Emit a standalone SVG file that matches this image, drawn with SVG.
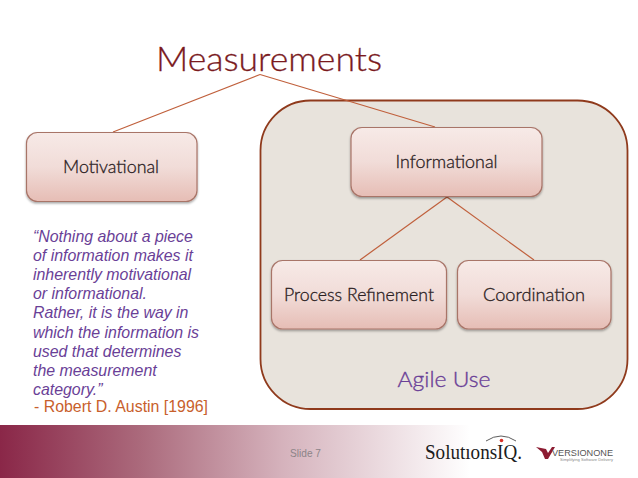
<svg xmlns="http://www.w3.org/2000/svg" width="638" height="478" viewBox="0 0 638 478">
<style>
.node{fill:url(#nodeFill);stroke:#a87468;stroke-width:1.2;filter:url(#sh)}
.lbl{font-family:"Lato","Open Sans",sans-serif;font-weight:300;font-size:17px;fill:#2a2022;stroke:#2a2022;stroke-width:.3px;text-anchor:middle}
.conn{stroke:#c0603c;stroke-width:1.2;fill:none}
.q{font-family:"Liberation Sans",Arial,sans-serif;font-style:italic;font-size:15.9px;fill:#6a3f97}
</style>
<defs>
<linearGradient id="nodeFill" x1="0" y1="0" x2="0" y2="1"><stop offset="0" stop-color="#f7eae7"/><stop offset="0.5" stop-color="#f1dcd8"/><stop offset="1" stop-color="#e6bdb5"/></linearGradient>
<linearGradient id="band" x1="0" y1="0" x2="1" y2="0"><stop offset="0" stop-color="#8a2748"/><stop offset="0.3" stop-color="#ab6a7c"/><stop offset="0.6" stop-color="#d5b2bc"/><stop offset="1" stop-color="#ffffff"/></linearGradient>
<filter id="sh" x="-5%" y="-5%" width="110%" height="115%"><feDropShadow dx="0" dy="1.5" stdDeviation="1.2" flood-color="#000" flood-opacity="0.35"/></filter>
</defs>
<rect width="638" height="478" fill="#fff"/>
<rect x="0" y="425" width="470" height="53" fill="url(#band)"/>
<text id="title" x="156" y="71" font-family="Lato,'Open Sans',sans-serif" font-weight="300" font-size="33" fill="#7a1a1e" stroke="#7a1a1e" stroke-width="0.300" textLength="226" lengthAdjust="spacingAndGlyphs">Measurements</text>
<g id="agile-use">
<rect x="260.500" y="100.500" width="367" height="308.500" rx="50" fill="#e8e3dc" stroke="#8f3a1c" stroke-width="1.800"/>
<text x="444" y="387" font-family="Lato,'Open Sans',sans-serif" font-weight="300" font-size="22" fill="#6a3f97" stroke="#6a3f97" stroke-width="0.350" text-anchor="middle" textLength="93" lengthAdjust="spacingAndGlyphs">Agile Use</text>
</g>
<g id="connectors">
<line class="conn" x1="260" y1="74.500" x2="113" y2="132"/>
<line class="conn" x1="260" y1="74.500" x2="435" y2="127"/>
<line class="conn" x1="447" y1="197" x2="360" y2="260"/>
<line class="conn" x1="447" y1="197" x2="534" y2="260"/>
</g>
<g id="motivational">
<rect class="node" x="26.500" y="132.500" width="170.500" height="69" rx="11"/>
<text class="lbl" x="111" y="173" textLength="96" lengthAdjust="spacingAndGlyphs">Motivational</text>
</g>
<g id="informational">
<rect class="node" x="351" y="127.500" width="191" height="69" rx="11"/>
<text class="lbl" x="446.500" y="168" textLength="102" lengthAdjust="spacingAndGlyphs">Informational</text>
</g>
<g id="process-refinement">
<rect class="node" x="271.500" y="260.500" width="175" height="68.500" rx="11"/>
<text class="lbl" x="359" y="301" textLength="150" lengthAdjust="spacingAndGlyphs">Process Refinement</text>
</g>
<g id="coordination">
<rect class="node" x="457.500" y="260.500" width="153.500" height="68.500" rx="11"/>
<text class="lbl" x="534" y="301" textLength="102" lengthAdjust="spacingAndGlyphs">Coordination</text>
</g>
<g id="quote">
<text class="q" x="33" y="242">“Nothing about a piece</text>
<text class="q" x="33" y="261">of information makes it</text>
<text class="q" x="33" y="280">inherently motivational</text>
<text class="q" x="33" y="299">or informational.</text>
<text class="q" x="33" y="318">Rather, it is the way in</text>
<text class="q" x="33" y="338">which the information is</text>
<text class="q" x="33" y="357">used that determines</text>
<text class="q" x="33" y="376">the measurement</text>
<text class="q" x="33" y="395">category.”</text>
<text x="34" y="412" font-family="'Liberation Sans',Arial,sans-serif" font-size="15.900" fill="#c8602c">- Robert D. Austin [1996]</text>
</g>
<text id="slide" x="290" y="457" font-family="'Liberation Sans',Arial,sans-serif" font-size="11" fill="#8c8488" textLength="31" lengthAdjust="spacingAndGlyphs">Slide 7</text>
<g id="logos">
<path d="M486 441Q501 431 516 441" fill="none" stroke="#333" stroke-width="0.800"/>
<circle cx="501.500" cy="440.500" r="1.800" fill="#d8322a"/>
<text x="425" y="459" font-family="'Liberation Serif',serif" font-size="21.500" fill="#1c1c1c" textLength="97" lengthAdjust="spacingAndGlyphs">SolutıonsIQ.</text>
<path d="M536 447L546 449L548 453L552 447L555 447L548 459L545 459L542 452Z" fill="#8c1c32"/>
<text x="552" y="456" font-family="'Liberation Sans',Arial,sans-serif" font-size="9" fill="#555" textLength="61" lengthAdjust="spacingAndGlyphs">VERSIONONE</text>
<text x="560" y="460.500" font-family="'Liberation Sans',Arial,sans-serif" font-size="3.500" fill="#888" textLength="53" lengthAdjust="spacingAndGlyphs">Simplifying Software Delivery</text>
</g>
</svg>
